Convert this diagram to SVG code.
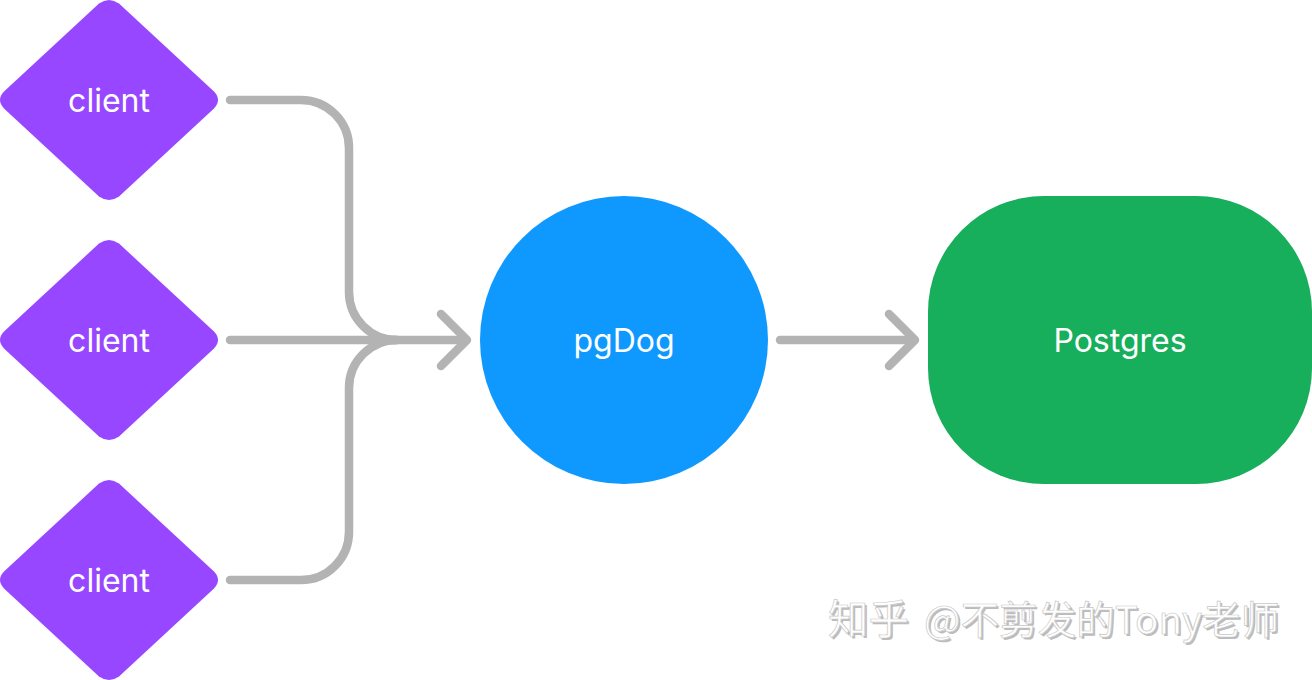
<svg xmlns="http://www.w3.org/2000/svg" width="1312" height="680" viewBox="0 0 1312 680">
<style>
.lbl{font-family:Inter,"Liberation Sans",sans-serif;font-size:32px;fill:#fff;text-anchor:middle}
.dia{fill:#9747ff}
.con{fill:none;stroke:#b3b3b3;stroke-width:8.5;stroke-linecap:round;stroke-linejoin:round}
.wm{font-family:"Noto Sans CJK SC","Noto Sans",sans-serif;font-size:38.6px}
.big{font-size:40.5px}
.sh{fill:#bcbcbc}
.fr{fill:#fff;stroke:#c8c8c8;stroke-width:0.7}
</style>
<defs>
<path id="d" class="dia" d="M99 3.5Q109 -3.5 119 3.5L214 91.500Q222 100 214 108.500L119 196.500Q109 203.500 99 196.500L4 108.500Q-4 100 4 91.500Z"/>
</defs>
<rect width="1312" height="680" fill="#fff"/>
<g id="connectors" class="con">
<path d="M230 100H301A48 48 0 0 1 349 148V292A48 48 0 0 0 397 340"/>
<path d="M230 580H301A48 48 0 0 0 349 532V388A48 48 0 0 1 397 340"/>
<path d="M230 340H466"/>
<path d="M441 314L467 340L441 366"/>
<path d="M780 340H914"/>
<path d="M889 314L915 340L889 366"/>
</g>
<g id="client1"><use href="#d"/><text class="lbl" x="109" y="112">client</text></g>
<g id="client2"><use href="#d" y="240"/><text class="lbl" x="109" y="352">client</text></g>
<g id="client3"><use href="#d" y="480"/><text class="lbl" x="109" y="592">client</text></g>
<g id="pgdog"><circle cx="624" cy="340" r="144" fill="#0f99ff"/><text class="lbl" x="624" y="352">pgDog</text></g>
<g id="postgres"><rect x="928" y="196" width="384" height="288" rx="116" ry="116" fill="#17ae5c"/><text class="lbl" x="1120" y="352">Postgres</text></g>
<g id="watermark">
<text class="wm big sh" x="828" y="634" transform="translate(2 2)">知乎</text>
<text class="wm big fr" x="828" y="634">知乎</text>
<text class="wm sh" x="924" y="634" transform="translate(2 2)">@不剪发的Tony老师</text>
<text class="wm fr" x="924" y="634">@不剪发的Tony老师</text>
</g>
</svg>
